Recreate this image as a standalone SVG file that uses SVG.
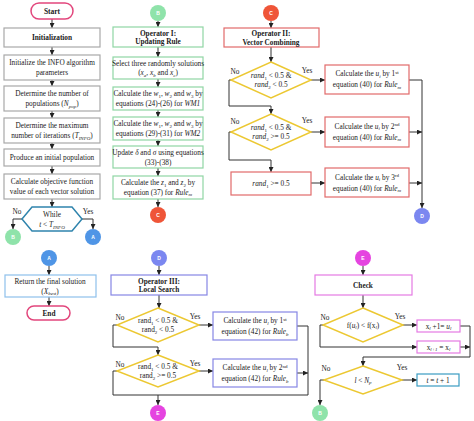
<svg xmlns="http://www.w3.org/2000/svg" width="474" height="421" viewBox="0 0 474 421">
<defs>
<marker id="ah" markerWidth="5" markerHeight="5" refX="5" refY="2.5" orient="auto" markerUnits="userSpaceOnUse"><path d="M0,0 L5,2.5 L0,5 z" fill="#222"/></marker>
<style>
.t{font-family:"Liberation Serif",serif;font-size:7.3px;fill:#1a1a1a;text-anchor:middle}
.b{font-weight:bold}
.i{font-style:italic}
.s{font-size:5px}
.ln{stroke:#333;stroke-width:1;fill:none}
.a{marker-end:url(#ah)}
.g{fill:#fff;stroke:#a8a8a8;stroke-width:1.2}
.gr{fill:#fff;stroke:#8fd6a4;stroke-width:1.2}
.rd{fill:#fff;stroke:#e26a6a;stroke-width:1.2}
.pu{fill:#fff;stroke:#8686e4;stroke-width:1.2}
.mg{fill:#fff;stroke:#e57ae3;stroke-width:1.2}
.lb{fill:#fff;stroke:#8ec0ec;stroke-width:1.2}
.tl{fill:#fff;stroke:#3a9cc2;stroke-width:1.2}
.yl{fill:#fff;stroke:#ecc832;stroke-width:1.5}
.pk{fill:#fff;stroke:#e2467c;stroke-width:1.5}
.hx{fill:#fff;stroke:#2f84ad;stroke-width:1.5}
.ct{font-family:"Liberation Sans",sans-serif;font-size:5px;font-weight:bold;fill:#fff;text-anchor:middle}
</style>
</defs>

<g id="connectors">
<path class="ln a" d="M52,19 V28"/>
<path class="ln a" d="M52,47 V55"/>
<path class="ln a" d="M52,80 V86"/>
<path class="ln a" d="M52,111 V118"/>
<path class="ln a" d="M52,143 V149"/>
<path class="ln a" d="M52,166 V174"/>
<path class="ln a" d="M52,199 V207"/>
<path class="ln a" d="M22,219 H13 V229"/>
<path class="ln a" d="M82,219 H93 V229"/>
<path class="ln a" d="M158,21 V27"/>
<path class="ln a" d="M158,47 V57"/>
<path class="ln a" d="M158,79 V87"/>
<path class="ln a" d="M158,110 V117"/>
<path class="ln a" d="M158,140 V146"/>
<path class="ln a" d="M158,168 V176"/>
<path class="ln a" d="M158,199 V207"/>
<path class="ln a" d="M271,21 V28"/>
<path class="ln a" d="M271,47 V62"/>
<path class="ln a" d="M311,80 H325"/>
<path class="ln a" d="M231,80 H229 V106 H271 V114"/>
<path class="ln a" d="M311,132 H325"/>
<path class="ln a" d="M231,132 H229 V160 H271 V172"/>
<path class="ln a" d="M311,183 H325"/>
<path class="ln a" d="M409,80 H422 V208"/>
<path class="ln a" d="M409,132 H422"/>
<path class="ln a" d="M409,183 H422"/>
<path class="ln a" d="M49,266 V275"/>
<path class="ln a" d="M49,297 V306"/>
<path class="ln a" d="M159,266 V275"/>
<path class="ln a" d="M159,295 V308"/>
<path class="ln a" d="M199,325 H213"/>
<path class="ln a" d="M117,325 H113 V347 H158 V355"/>
<path class="ln a" d="M199,371 H213"/>
<path class="ln" d="M117,371 H113 V395 H308"/>
<path class="ln" d="M297,326 H308 V395"/>
<path class="ln a" d="M297,373 H308"/>
<path class="ln a" d="M158,395 V405"/>
<path class="ln a" d="M363,266 V275"/>
<path class="ln a" d="M363,295 V308"/>
<path class="ln a" d="M403,325 H417"/>
<path class="ln a" d="M323,325 H320 V347 H417"/>
<path class="ln" d="M460,326 H470 V357 H363"/>
<path class="ln a" d="M460,347 H470"/>
<path class="ln a" d="M363,357 V366"/>
<path class="ln a" d="M402,380 H417"/>
<path class="ln a" d="M324,380 H320 V405"/>
</g>

<g id="labels">
<text class="t" x="17" y="214">No</text>
<text class="t" x="88" y="214">Yes</text>
<text class="t" x="235" y="74">No</text>
<text class="t" x="307" y="73">Yes</text>
<text class="t" x="235" y="124">No</text>
<text class="t" x="307" y="123">Yes</text>
<text class="t" x="120" y="320">No</text>
<text class="t" x="195" y="319">Yes</text>
<text class="t" x="120" y="367">No</text>
<text class="t" x="195" y="366">Yes</text>
<text class="t" x="325" y="320">No</text>
<text class="t" x="400" y="319">Yes</text>
<text class="t" x="326" y="371">No</text>
<text class="t" x="402" y="370">Yes</text>
</g>

<g id="start"><rect class="pk" x="31" y="3" width="42" height="16" rx="8"/><text class="t b" x="52" y="13.5" style="font-size:7.5px">Start</text></g>
<g id="init"><rect class="g" x="4" y="28" width="96" height="19"/><text class="t b" x="52" y="40">Initialization</text></g>
<g id="initparams"><rect class="g" x="4" y="55" width="96" height="25"/><text class="t" x="52" y="65">Initialize the INFO algorithm</text><text class="t" x="52" y="75">parameters</text></g>
<g id="npop"><rect class="g" x="4" y="86" width="96" height="25"/><text class="t" x="52" y="96">Determine the number of</text><text class="t" x="52" y="106">populations (<tspan class="i">N</tspan><tspan class="s i" dy="1.5">pop</tspan><tspan dy="-1.5">)</tspan></text></g>
<g id="tinfo"><rect class="g" x="4" y="118" width="96" height="25"/><text class="t" x="52" y="128">Determine the maximum</text><text class="t" x="52" y="138">number of iterations (<tspan class="i">T</tspan><tspan class="s i" dy="1.5">INFO</tspan><tspan dy="-1.5">)</tspan></text></g>
<g id="initpop"><rect class="g" x="4" y="149" width="96" height="17"/><text class="t" x="52" y="160">Produce an initial population</text></g>
<g id="objfun"><rect class="g" x="4" y="174" width="96" height="25"/><text class="t" x="52" y="184">Calculate objective function</text><text class="t" x="52" y="194">value of each vector solution</text></g>
<g id="while"><polygon class="hx" points="22,219 32,207 72,207 82,219 72,231 32,231"/><text class="t" x="52" y="217">While</text><text class="t" x="52" y="227"><tspan class="i">t</tspan> &lt; <tspan class="i">T</tspan><tspan class="s i" dy="1.5">INFO</tspan></text></g>
<g id="circB1"><circle cx="13" cy="237" r="8" fill="#8fe3aa"/><text class="ct" x="13" y="239">B</text></g>
<g id="circA1"><circle cx="93" cy="237" r="8" fill="#4f95e6"/><text class="ct" x="93" y="239">A</text></g>

<g id="circB2"><circle cx="158" cy="13" r="8" fill="#8fe3aa"/><text class="ct" x="158" y="15">B</text></g>
<g id="op1"><rect class="gr" x="113" y="27" width="90" height="20"/><text class="t b" x="158" y="35.5">Operator I:</text><text class="t b" x="158" y="44">Updating Rule</text></g>
<g id="select"><rect class="gr" x="113" y="57" width="90" height="22"/><text class="t" x="158" y="66">Select three randomly solutions</text><text class="t" x="158" y="75">(<tspan class="i">x</tspan><tspan class="s i" dy="1.5">a</tspan><tspan dy="-1.5">, </tspan><tspan class="i">x</tspan><tspan class="s i" dy="1.5">b</tspan><tspan dy="-1.5"> and </tspan><tspan class="i">x</tspan><tspan class="s i" dy="1.5">c</tspan><tspan dy="-1.5">)</tspan></text></g>
<g id="wm1"><rect class="gr" x="113" y="87" width="90" height="23"/><text class="t" x="158" y="96">Calculate the <tspan class="i">w</tspan><tspan class="s" dy="1.5">1</tspan><tspan dy="-1.5">, </tspan><tspan class="i">w</tspan><tspan class="s" dy="1.5">2</tspan><tspan dy="-1.5"> and </tspan><tspan class="i">w</tspan><tspan class="s" dy="1.5">3</tspan><tspan dy="-1.5"> by</tspan></text><text class="t" x="158" y="105.5">equations (24)-(26) for <tspan class="i">WM1</tspan></text></g>
<g id="wm2"><rect class="gr" x="113" y="117" width="90" height="23"/><text class="t" x="158" y="126">Calculate the <tspan class="i">w</tspan><tspan class="s" dy="1.5">1</tspan><tspan dy="-1.5">, </tspan><tspan class="i">w</tspan><tspan class="s" dy="1.5">2</tspan><tspan dy="-1.5"> and </tspan><tspan class="i">w</tspan><tspan class="s" dy="1.5">3</tspan><tspan dy="-1.5"> by</tspan></text><text class="t" x="158" y="135.5">equations (29)-(31) for <tspan class="i">WM2</tspan></text></g>
<g id="update"><rect class="gr" x="113" y="146" width="90" height="22"/><text class="t" x="158" y="155">Update <tspan class="i">δ</tspan> and <tspan class="i">σ</tspan> using equations</text><text class="t" x="158" y="164.5">(33)-(38)</text></g>
<g id="zcalc"><rect class="gr" x="113" y="176" width="90" height="23"/><text class="t" x="158" y="185">Calculate the <tspan class="i">z</tspan><tspan class="s" dy="1.5">1</tspan><tspan dy="-1.5"> and </tspan><tspan class="i">z</tspan><tspan class="s" dy="1.5">2</tspan><tspan dy="-1.5"> by</tspan></text><text class="t" x="158" y="194.5">equation (37) for <tspan class="i">Rule</tspan><tspan class="s i" dy="1.5">m</tspan></text></g>
<g id="circC1"><circle cx="158" cy="215" r="8" fill="#ef5538"/><text class="ct" x="158" y="217">C</text></g>

<g id="circC2"><circle cx="271" cy="13" r="8" fill="#ef5538"/><text class="ct" x="271" y="15">C</text></g>
<g id="op2"><rect class="rd" x="224" y="28" width="95" height="19"/><text class="t b" x="271" y="36">Operator II:</text><text class="t b" x="271" y="44.5">Vector Combining</text></g>
<g id="dec1"><polygon class="yl" points="271,62 311,80 271,98 231,80"/><text class="t" x="271" y="78"><tspan class="i">rand</tspan><tspan class="s" dy="1.5">1</tspan><tspan dy="-1.5"> &lt; 0.5 &amp;</tspan></text><text class="t" x="271" y="87"><tspan class="i">rand</tspan><tspan class="s" dy="1.5">2</tspan><tspan dy="-1.5"> &lt; 0.5</tspan></text></g>
<g id="u1"><rect class="rd" x="325" y="65" width="84" height="29"/><text class="t" x="367" y="76">Calculate the <tspan class="i">u</tspan><tspan class="s i" dy="1.5">i</tspan><tspan dy="-1.5"> by 1</tspan><tspan class="s" dy="-2.5">st</tspan></text><text class="t" x="367" y="87">equation (40) for <tspan class="i">Rule</tspan><tspan class="s i" dy="1.5">m</tspan></text></g>
<g id="dec2"><polygon class="yl" points="271,114 311,132 271,150 231,132"/><text class="t" x="271" y="130"><tspan class="i">rand</tspan><tspan class="s" dy="1.5">1</tspan><tspan dy="-1.5"> &lt; 0.5 &amp;</tspan></text><text class="t" x="271" y="139"><tspan class="i">rand</tspan><tspan class="s" dy="1.5">2</tspan><tspan dy="-1.5"> &gt;= 0.5</tspan></text></g>
<g id="u2"><rect class="rd" x="325" y="117" width="84" height="30"/><text class="t" x="367" y="128.5">Calculate the <tspan class="i">u</tspan><tspan class="s i" dy="1.5">i</tspan><tspan dy="-1.5"> by 2</tspan><tspan class="s" dy="-2.5">nd</tspan></text><text class="t" x="367" y="139.5">equation (40) for <tspan class="i">Rule</tspan><tspan class="s i" dy="1.5">m</tspan></text></g>
<g id="dec3"><rect class="rd" x="231" y="172" width="80" height="23"/><text class="t" x="271" y="186"><tspan class="i">rand</tspan><tspan class="s" dy="1.5">1</tspan><tspan dy="-1.5"> &gt;= 0.5</tspan></text></g>
<g id="u3"><rect class="rd" x="325" y="168" width="84" height="29"/><text class="t" x="367" y="179.5">Calculate the <tspan class="i">u</tspan><tspan class="s i" dy="1.5">i</tspan><tspan dy="-1.5"> by 3</tspan><tspan class="s" dy="-2.5">rd</tspan></text><text class="t" x="367" y="190.5">equation (40) for <tspan class="i">Rule</tspan><tspan class="s i" dy="1.5">m</tspan></text></g>
<g id="circD1"><circle cx="422" cy="216" r="8" fill="#7b87f0"/><text class="ct" x="422" y="218">D</text></g>

<g id="circA2"><circle cx="49" cy="258" r="8" fill="#4f95e6"/><text class="ct" x="49" y="260">A</text></g>
<g id="return"><rect class="lb" x="5" y="275" width="91" height="22"/><text class="t" x="50" y="284">Return the final solution</text><text class="t" x="50" y="293.5">(<tspan class="i">X</tspan><tspan class="s i" dy="1.5">best</tspan><tspan dy="-1.5">)</tspan></text></g>
<g id="end"><rect class="pk" x="27" y="306" width="43" height="14" rx="7"/><text class="t b" x="49" y="315.5">End</text></g>

<g id="circD2"><circle cx="159" cy="258" r="8" fill="#7b87f0"/><text class="ct" x="159" y="260">D</text></g>
<g id="op3"><rect class="pu" x="111" y="275" width="96" height="20"/><text class="t b" x="159" y="283.5">Operator III:</text><text class="t b" x="159" y="292">Local Search</text></g>
<g id="ls1"><polygon class="yl" points="158,308 199,325 158,342 117,325"/><text class="t" x="158" y="323">rand<tspan class="s" dy="1.5">1</tspan><tspan dy="-1.5"> &lt; 0.5 &amp;</tspan></text><text class="t" x="158" y="332">rand<tspan class="s" dy="1.5">2</tspan><tspan dy="-1.5"> &lt; 0.5</tspan></text></g>
<g id="lu1"><rect class="pu" x="213" y="312" width="84" height="28"/><text class="t" x="255" y="323">Calculate the <tspan class="i">u</tspan><tspan class="s i" dy="1.5">l</tspan><tspan dy="-1.5"> by 1</tspan><tspan class="s" dy="-2.5">st</tspan></text><text class="t" x="255" y="334">equation (42) for <tspan class="i">Rule</tspan><tspan class="s i" dy="1.5">b</tspan></text></g>
<g id="ls2"><polygon class="yl" points="158,355 199,371 158,387 117,371"/><text class="t" x="158" y="369">rand<tspan class="s" dy="1.5">1</tspan><tspan dy="-1.5"> &lt; 0.5 &amp;</tspan></text><text class="t" x="158" y="378">rand<tspan class="s" dy="1.5">2</tspan><tspan dy="-1.5"> &gt;= 0.5</tspan></text></g>
<g id="lu2"><rect class="pu" x="213" y="359" width="84" height="28"/><text class="t" x="255" y="370">Calculate the <tspan class="i">u</tspan><tspan class="s i" dy="1.5">l</tspan><tspan dy="-1.5"> by 2</tspan><tspan class="s" dy="-2.5">nd</tspan></text><text class="t" x="255" y="381">equation (42) for <tspan class="i">Rule</tspan><tspan class="s i" dy="1.5">b</tspan></text></g>
<g id="circE1"><circle cx="158" cy="413" r="8" fill="#e544e0"/><text class="ct" x="158" y="415">E</text></g>

<g id="circE2"><circle cx="363" cy="258" r="8" fill="#e544e0"/><text class="ct" x="363" y="260">E</text></g>
<g id="check"><rect class="mg" x="315" y="275" width="97" height="20"/><text class="t b" x="363" y="288">Check</text></g>
<g id="cmp"><polygon class="yl" points="363,308 403,325 363,342 323,325"/><text class="t" x="363" y="327.5">f(<tspan class="i">u</tspan><tspan class="s i" dy="1.5">l</tspan><tspan dy="-1.5">) &lt; f(x</tspan><tspan class="s i" dy="1.5">l</tspan><tspan dy="-1.5">)</tspan></text></g>
<g id="xnew"><rect class="mg" x="417" y="320" width="43" height="12"/><text class="t" x="438.5" y="328.5">x<tspan class="s i" dy="1.5">l</tspan><tspan dy="-1.5"> +1= </tspan><tspan class="i">u</tspan><tspan class="s i" dy="1.5">l</tspan></text></g>
<g id="xkeep"><rect class="mg" x="417" y="341" width="43" height="12"/><text class="t" x="438.5" y="349.5">x<tspan class="s i" dy="1.5">l+1</tspan><tspan dy="-1.5"> = x</tspan><tspan class="s i" dy="1.5">l</tspan></text></g>
<g id="lnp"><polygon class="yl" points="363,366 402,380 363,394 324,380"/><text class="t" x="363" y="382.5"><tspan class="i">l</tspan> &lt; <tspan class="i">N</tspan><tspan class="s i" dy="1.5">p</tspan></text></g>
<g id="tinc"><rect class="tl" x="417" y="374" width="42" height="12"/><text class="t" x="438" y="382.5"><tspan class="i">t</tspan> = <tspan class="i">t</tspan> + 1</text></g>
<g id="circB3"><circle cx="320" cy="413" r="8" fill="#8fe3aa"/><text class="ct" x="320" y="415">B</text></g>
</svg>
